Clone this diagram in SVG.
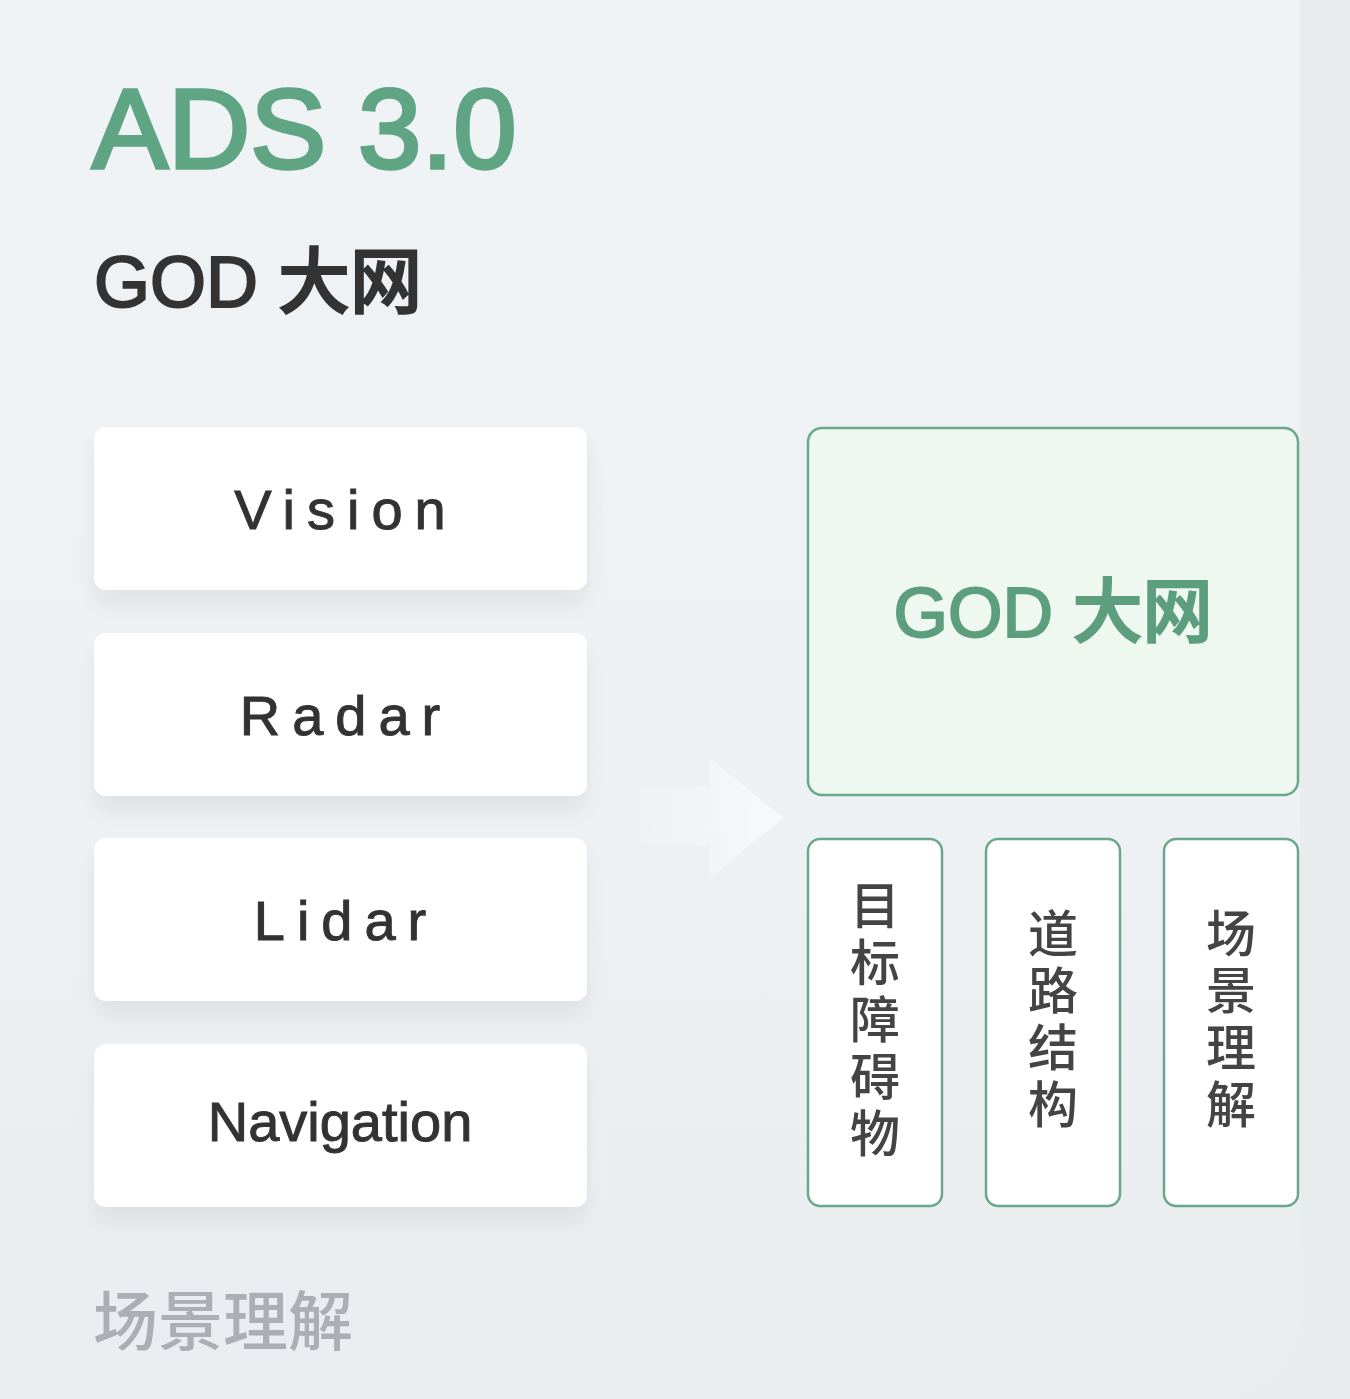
<svg xmlns="http://www.w3.org/2000/svg" width="1350" height="1399" viewBox="0 0 1350 1399">
<defs>
<linearGradient id="panel" x1="0" y1="0" x2="0" y2="1">
<stop offset="0" stop-color="#f0f3f5"/>
<stop offset="0.6" stop-color="#edf1f3"/>
<stop offset="1" stop-color="#e9edf0"/>
</linearGradient>
<linearGradient id="arr" x1="0" y1="0" x2="1" y2="0">
<stop offset="0" stop-color="#ffffff" stop-opacity="0.05"/>
<stop offset="1" stop-color="#ffffff" stop-opacity="0.6"/>
</linearGradient>
<filter id="sh" x="-10%" y="-10%" width="120%" height="140%">
<feGaussianBlur in="SourceAlpha" stdDeviation="10"/>
<feOffset dy="16"/>
<feComponentTransfer><feFuncA type="linear" slope="0.06"/></feComponentTransfer>
<feMerge><feMergeNode/><feMergeNode in="SourceGraphic"/></feMerge>
</filter>
<style>
.in{fill:#ffffff}
.lbl{font-family:"Liberation Sans",Arial,sans-serif;font-size:56px;fill:#333333;stroke:#333333;stroke-width:1;text-anchor:middle}
.g{fill:#ffffff;stroke:#6aa88a;stroke-width:2.5}
.v{font-family:"Noto Sans CJK SC",sans-serif;font-size:50px;fill:#444444;text-anchor:middle;font-weight:500}
</style>
</defs>
<rect x="0" y="0" width="1350" height="1399" fill="#e9ecef"/>
<rect x="-80" y="-100" width="1380" height="1500" rx="90" fill="url(#panel)"/>
<text x="92" y="168" font-family="'Liberation Sans',Arial,sans-serif" font-size="114" fill="#5fa584" stroke="#5fa584" stroke-width="3.5">ADS 3.0</text>
<text x="94" y="307" font-family="'Liberation Sans','Noto Sans CJK SC',sans-serif" font-size="72" font-weight="500" fill="#333333" stroke="#333333" stroke-width="2">GOD 大网</text>
<g id="vision" filter="url(#sh)"><rect class="in" x="94" y="427" width="493" height="163" rx="12"/><text class="lbl" x="346" y="529" letter-spacing="12">Vision</text></g>
<g id="radar" filter="url(#sh)"><rect class="in" x="94" y="633" width="493" height="163" rx="12"/><text class="lbl" x="346" y="735" letter-spacing="12">Radar</text></g>
<g id="lidar" filter="url(#sh)"><rect class="in" x="94" y="838" width="493" height="163" rx="12"/><text class="lbl" x="346" y="940" letter-spacing="12">Lidar</text></g>
<g id="navigation" filter="url(#sh)"><rect class="in" x="94" y="1044" width="493" height="163" rx="12"/><text class="lbl" x="340" y="1141" font-size="58">Navigation</text></g>
<g id="connectors"><path d="M638 787 H710 V758 L783 818 L710 878 V845 H638 Z" fill="url(#arr)"/></g>
<g id="god"><rect x="808" y="428" width="490" height="367" rx="14" fill="#eef8f1" stroke="#6aa88a" stroke-width="2.5"/><text x="1053" y="637" font-family="'Liberation Sans','Noto Sans CJK SC',sans-serif" font-size="70" font-weight="500" fill="#5d9e7f" stroke="#5d9e7f" stroke-width="2" text-anchor="middle">GOD 大网</text></g>
<g id="obstacle"><rect class="g" x="808" y="839" width="134" height="367" rx="12"/><text class="v"><tspan x="875" y="924">目</tspan><tspan x="875" y="981">标</tspan><tspan x="875" y="1038">障</tspan><tspan x="875" y="1095">碍</tspan><tspan x="875" y="1152">物</tspan></text></g>
<g id="road"><rect class="g" x="986" y="839" width="134" height="367" rx="12"/><text class="v"><tspan x="1053" y="952">道</tspan><tspan x="1053" y="1009">路</tspan><tspan x="1053" y="1066">结</tspan><tspan x="1053" y="1123">构</tspan></text></g>
<g id="scene"><rect class="g" x="1164" y="839" width="134" height="367" rx="12"/><text class="v"><tspan x="1231" y="952">场</tspan><tspan x="1231" y="1009">景</tspan><tspan x="1231" y="1066">理</tspan><tspan x="1231" y="1123">解</tspan></text></g>
<text x="93" y="1345" font-family="'Noto Sans CJK SC',sans-serif" font-size="65" font-weight="500" fill="#abaeb2">场景理解</text>
</svg>
